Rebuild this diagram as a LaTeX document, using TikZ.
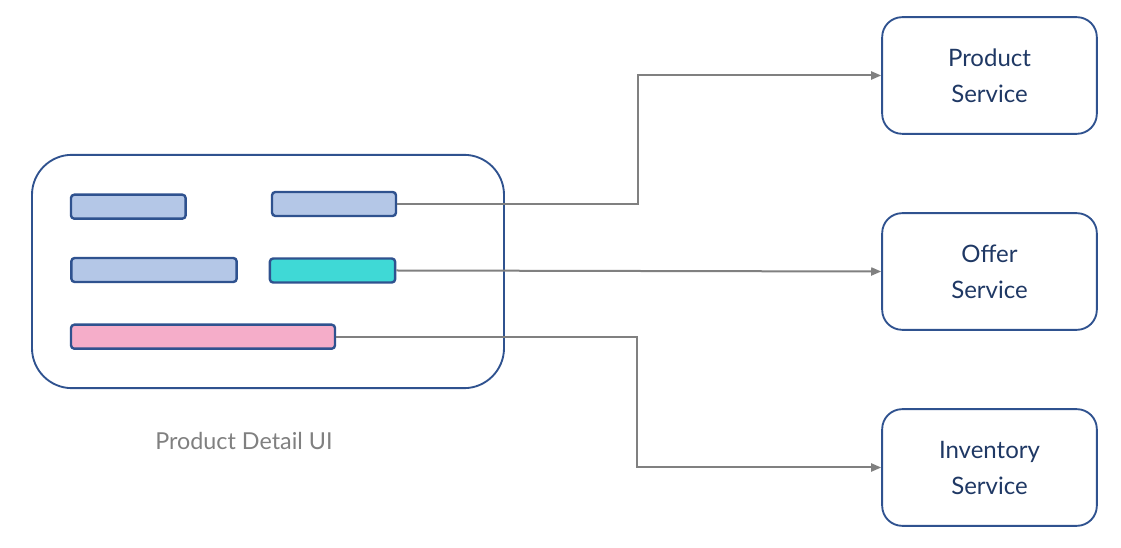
\documentclass[tikz,border=0pt]{standalone}
\usepackage{fontspec}
\setmainfont{Lato}
\usepackage{tikz}
\usetikzlibrary{arrows.meta}
\definecolor{frameblue}{HTML}{2F528F}
\definecolor{tileblue}{HTML}{B4C7E7}
\definecolor{tileteal}{HTML}{3FD9D6}
\definecolor{tilepink}{HTML}{F5ADC9}
\definecolor{svcnavy}{HTML}{1F3864}
\definecolor{linegray}{HTML}{808080}
\tikzstyle{tile}=[draw=frameblue,line width=1.8pt,rounded corners=2.5pt,minimum height=18pt,inner sep=0pt,fill=tileblue]

\begin{document}
\begin{tikzpicture}[x=0.75pt,y=-0.75pt,node distance = 147pt]

\tikzstyle{svc}=[draw=frameblue,line width=1.4pt,rounded corners=15pt,minimum width=161pt,minimum height=87.5pt,text width=150pt,align=center,text=svcnavy,font=\fontsize{18}{27}\selectfont]
\tikzstyle{arrow}=[-{Triangle[length=7.5pt,width=6pt]},draw=linegray,line width=1.5pt]

\useasboundingbox (0,0) rectangle (1121,548);

\node (ui) [draw=frameblue,line width=1.4pt,rounded corners=30pt,minimum width=354pt,minimum height=175pt] at (268,271.5) {};

\node (tile1) [tile, minimum width=86pt]  at (128.3,206.7) {};
\node (tile2) [tile, minimum width=93pt]  at (334,204)     {};
\node (tile3) [tile, minimum width=124pt] at (154,270)     {};
\node (tile4) [tile, minimum width=94pt, fill=tileteal] at (332.5,270.5) {};
\node (tile5) [tile, minimum width=198pt, fill=tilepink] at (203,336.7) {};

\node (uilabel) [text=linegray,font=\fontsize{17.5}{21}\selectfont] at (243.9,441) {Product Detail UI};

\node (prod) [svc] at (989.5,75.5)   {Product\\Service};
\node (offer) [svc, below of = prod]  {Offer\\Service};
\node (inv) [svc, below of = offer]   {Inventory\\Service};

\coordinate (bendA) at (638,204);
\coordinate (bendB) at (637,337);

\draw [arrow] (tile2.east) -| (bendA |- prod.west) -- (prod.west);
\draw [arrow] (tile4.east) -- (offer.west);
\draw [arrow] (tile5.east) -| (bendB |- inv.west) -- (inv.west);

\end{tikzpicture}
\end{document}
